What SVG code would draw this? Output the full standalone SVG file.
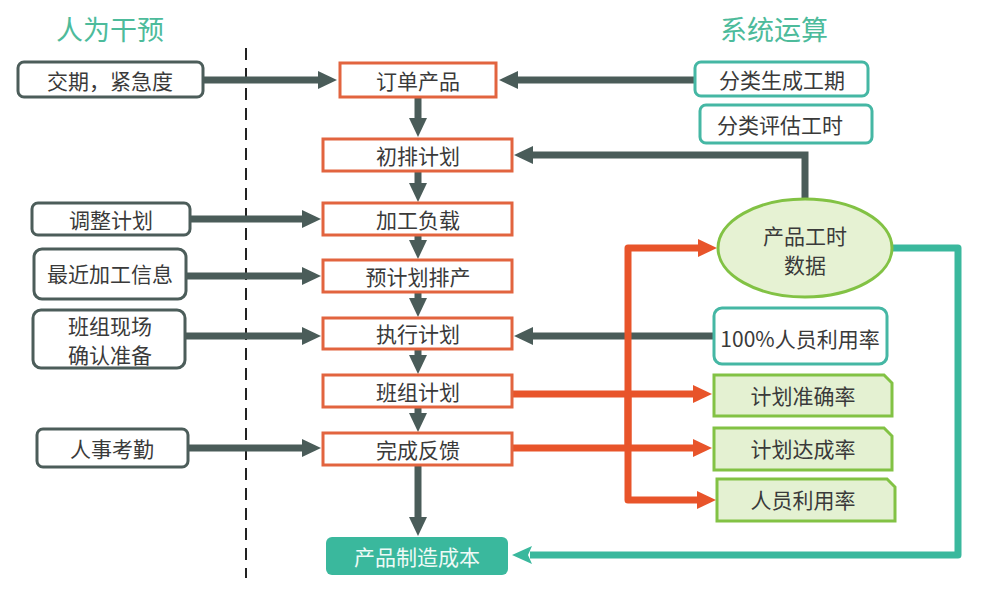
<svg xmlns="http://www.w3.org/2000/svg" width="1000" height="606" viewBox="0 0 1000 606">
<style>
text{font-family:"Noto Sans CJK SC","Noto Sans",sans-serif;font-size:21px;fill:#3a3a3a;text-anchor:middle;dominant-baseline:central}
.title{font-size:27px;fill:#4dbb9b}
.lbox{fill:#fff;stroke:#4c5d5a;stroke-width:3}
.mbox{fill:#fff;stroke:#e2643f;stroke-width:3}
.tbox{fill:#fff;stroke:#45b7a4;stroke-width:3}
.gbox{fill:#e4f1d2;stroke:#82c244;stroke-width:3}
.dark{fill:none;stroke:#4a5c59;stroke-width:7}
.orange{fill:none;stroke:#e8542a;stroke-width:7;stroke-linejoin:round}
.teal{fill:none;stroke:#3ab89d;stroke-width:7;stroke-linejoin:round}
</style>
<defs>
<marker id="ahDark" markerUnits="userSpaceOnUse" markerWidth="20" markerHeight="20" refX="1" refY="10" orient="auto"><path d="M0,1 L19,10 L0,19 z" fill="#4a5c59"/></marker>
<marker id="ahOrange" markerUnits="userSpaceOnUse" markerWidth="20" markerHeight="20" refX="1" refY="10" orient="auto"><path d="M0,1 L19,10 L0,19 z" fill="#e8542a"/></marker>
<marker id="ahTeal" markerUnits="userSpaceOnUse" markerWidth="22" markerHeight="22" refX="2" refY="11" orient="auto"><path d="M0,2 L20,11 L0,20 L4,11 z" fill="#3ab89d"/></marker>
</defs>
<rect width="1000" height="606" fill="#fff"/>
<text class="title" x="110" y="28">人为干预</text>
<text class="title" x="774" y="28">系统运算</text>
<line x1="246" y1="48" x2="246" y2="578" stroke="#222" stroke-width="2" stroke-dasharray="12 8"/>

<g id="connectors">
<path class="dark" d="M203,80 H319" marker-end="url(#ahDark)"/>
<path class="dark" d="M695,80 H517" marker-end="url(#ahDark)"/>
<path class="dark" d="M805,199 V155 H532" marker-end="url(#ahDark)"/>
<path class="dark" d="M190,219 H303" marker-end="url(#ahDark)"/>
<path class="dark" d="M186,276 H303" marker-end="url(#ahDark)"/>
<path class="dark" d="M185,336 H303" marker-end="url(#ahDark)"/>
<path class="dark" d="M714,336 H532" marker-end="url(#ahDark)"/>
<path class="dark" d="M188,448 H303" marker-end="url(#ahDark)"/>
<path class="dark" d="M418,97 V119" marker-end="url(#ahDark)"/>
<path class="dark" d="M418,172 V184" marker-end="url(#ahDark)"/>
<path class="dark" d="M418,235 V241" marker-end="url(#ahDark)"/>
<path class="dark" d="M418,292 V299" marker-end="url(#ahDark)"/>
<path class="dark" d="M418,349 V356" marker-end="url(#ahDark)"/>
<path class="dark" d="M418,407 V414" marker-end="url(#ahDark)"/>
<path class="dark" d="M418,465 V518" marker-end="url(#ahDark)"/>
<path class="orange" d="M512,394 H694" marker-end="url(#ahOrange)"/>
<path class="orange" d="M512,448 H694" marker-end="url(#ahOrange)"/>
<path class="orange" d="M628,448 V248 H699" marker-end="url(#ahOrange)"/>
<path class="orange" d="M628,394 V500 H698" marker-end="url(#ahOrange)"/>
<path class="teal" d="M892,248 H958 V555 H530" marker-end="url(#ahTeal)"/>
</g>

<g id="n-jiaoqi"><rect class="lbox" x="18" y="62" width="185" height="35" rx="6"/><text x="110" y="80">交期，紧急度</text></g>
<g id="n-tiaozheng"><rect class="lbox" x="32" y="203" width="158" height="32" rx="6"/><text x="111" y="219">调整计划</text></g>
<g id="n-zuijin"><rect class="lbox" x="34" y="249" width="152" height="50" rx="8"/><text x="110" y="273">最近加工信息</text></g>
<g id="n-banzuxc"><rect class="lbox" x="33" y="310" width="152" height="58" rx="8"/><text x="110" y="325">班组现场</text><text x="110" y="354">确认准备</text></g>
<g id="n-renshi"><rect class="lbox" x="37" y="429" width="151" height="38" rx="6"/><text x="112" y="448">人事考勤</text></g>

<g id="n-dingdan"><rect class="mbox" x="340" y="63" width="156" height="34"/><text x="418" y="80">订单产品</text></g>
<g id="n-chupai"><rect class="mbox" x="323" y="139" width="189" height="32"/><text x="418" y="155">初排计划</text></g>
<g id="n-jiagong"><rect class="mbox" x="323" y="203" width="189" height="32"/><text x="418" y="219">加工负载</text></g>
<g id="n-yujihua"><rect class="mbox" x="323" y="260" width="189" height="32"/><text x="418" y="276">预计划排产</text></g>
<g id="n-zhixing"><rect class="mbox" x="323" y="318" width="189" height="31"/><text x="418" y="333">执行计划</text></g>
<g id="n-banzu"><rect class="mbox" x="323" y="375" width="189" height="32"/><text x="418" y="391">班组计划</text></g>
<g id="n-wancheng"><rect class="mbox" x="323" y="433" width="189" height="32"/><text x="418" y="449">完成反馈</text></g>
<g id="n-chengben"><rect x="326" y="537" width="182" height="38" rx="6" fill="#3ab89d"/><text x="417" y="556" style="fill:#eefaf6">产品制造成本</text></g>

<g id="n-fenlei1"><rect class="tbox" x="695" y="62" width="173" height="34" rx="6"/><text x="782" y="79">分类生成工期</text></g>
<g id="n-fenlei2"><rect class="tbox" x="700" y="105" width="172" height="38" rx="6"/><text x="780" y="124">分类评估工时</text></g>
<g id="n-gongshi"><ellipse cx="805" cy="248" rx="87" ry="49" fill="#e6f2d3" stroke="#82c244" stroke-width="3"/><text x="805" y="235">产品工时</text><text x="805" y="264">数据</text></g>
<g id="n-100"><rect class="tbox" x="714" y="308" width="173" height="56" rx="8"/><text x="800" y="338">100%人员利用率</text></g>
<g id="n-zhunque"><path class="gbox" d="M714,375 H884 L892,383 V416 H714 Z"/><text x="803" y="395">计划准确率</text></g>
<g id="n-dacheng"><path class="gbox" d="M714,428 H884 L892,436 V470 H714 Z"/><text x="803" y="448">计划达成率</text></g>
<g id="n-liyong"><path class="gbox" d="M717,479 H887 L895,487 V521 H717 Z"/><text x="803" y="499">人员利用率</text></g>
</svg>
